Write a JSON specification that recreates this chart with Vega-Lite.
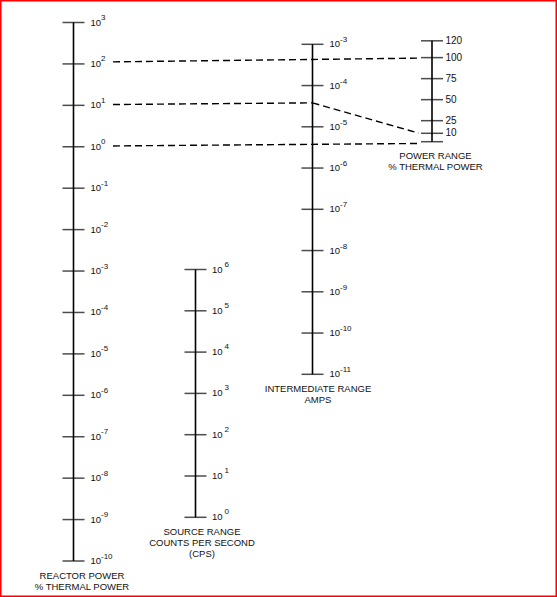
{
  "$schema": "https://vega.github.io/schema/vega-lite/v6.json",
  "width": 557,
  "height": 597,
  "autosize": {"type": "fit", "contains": "padding"},
  "padding": 0,
  "background": "white",
  "datasets": {
    "reactor": [
      {"exponent": 3}, {"exponent": 2}, {"exponent": 1}, {"exponent": 0},
      {"exponent": -1}, {"exponent": -2}, {"exponent": -3}, {"exponent": -4},
      {"exponent": -5}, {"exponent": -6}, {"exponent": -7}, {"exponent": -8},
      {"exponent": -9}, {"exponent": -10}
    ],
    "source": [
      {"exponent": 6}, {"exponent": 5}, {"exponent": 4}, {"exponent": 3},
      {"exponent": 2}, {"exponent": 1}, {"exponent": 0}
    ],
    "intermediate": [
      {"exponent": -3}, {"exponent": -4}, {"exponent": -5}, {"exponent": -6},
      {"exponent": -7}, {"exponent": -8}, {"exponent": -9}, {"exponent": -10},
      {"exponent": -11}
    ],
    "power": [
      {"percent": 120}, {"percent": 100}, {"percent": 75}, {"percent": 50},
      {"percent": 25}, {"percent": 10}, {"percent": 0}
    ],
    "dashes": [
      {"line": "100 %", "segment": "A", "at": "Reactor Power", "exponent": 2.05},
      {"line": "100 %", "segment": "A", "at": "Power Range", "exponent": 2.14},
      {"line": "1 %", "segment": "A", "at": "Reactor Power", "exponent": 0.02},
      {"line": "1 %", "segment": "A", "at": "Power Range", "exponent": 0.08},
      {"line": "10 %", "segment": "B", "at": "Reactor Power", "exponent": 1.02},
      {"line": "10 %", "segment": "B", "at": "Intermediate Range", "exponent": 1.06},
      {"line": "10 %", "segment": "C", "at": "Intermediate Range", "exponent": 1.06},
      {"line": "10 %", "segment": "C", "at": "Power Range", "exponent": 0.33}
    ]
  },
  "layer": [
    {
      "data": {"name": "dashes"},
      "transform": [{"filter": "datum.segment == 'A'"}],
      "mark": {"type": "line", "strokeDash": [7, 4], "strokeWidth": 1.4, "color": "#000"},
      "encoding": {
        "x": {"field": "at", "type": "nominal", "axis": null, "sort": null,
              "scale": {"domain": ["Reactor Power", "Power Range"], "range": [113, 421], "padding": 0}},
        "y": {"field": "exponent", "type": "quantitative", "axis": null,
              "scale": {"domain": [-10, 3], "range": [561, 22.5], "nice": false, "zero": false}},
        "detail": {"field": "line", "type": "nominal"}
      }
    },
    {
      "data": {"name": "dashes"},
      "transform": [{"filter": "datum.segment == 'B'"}],
      "mark": {"type": "line", "strokeDash": [7, 4], "strokeWidth": 1.4, "color": "#000"},
      "encoding": {
        "x": {"field": "at", "type": "nominal", "axis": null, "sort": null,
              "scale": {"domain": ["Reactor Power", "Intermediate Range"], "range": [113, 312.5], "padding": 0}},
        "y": {"field": "exponent", "type": "quantitative", "axis": null,
              "scale": {"domain": [-10, 3], "range": [561, 22.5], "nice": false, "zero": false}},
        "detail": {"field": "line", "type": "nominal"}
      }
    },
    {
      "data": {"name": "dashes"},
      "transform": [{"filter": "datum.segment == 'C'"}],
      "mark": {"type": "line", "strokeDash": [7, 4], "strokeWidth": 1.4, "color": "#000"},
      "encoding": {
        "x": {"field": "at", "type": "nominal", "axis": null, "sort": null,
              "scale": {"domain": ["Intermediate Range", "Power Range"], "range": [312.5, 418.5], "padding": 0}},
        "y": {"field": "exponent", "type": "quantitative", "axis": null,
              "scale": {"domain": [-10, 3], "range": [561, 22.5], "nice": false, "zero": false}},
        "detail": {"field": "line", "type": "nominal"}
      }
    },
    {
      "data": {"name": "reactor"},
      "encoding": {
        "x": {"datum": "Reactor Power", "type": "nominal", "axis": null, "scale": {"range": [73.5, 73.5]}},
        "y": {"field": "exponent", "type": "quantitative", "axis": null,
              "scale": {"domain": [-10, 3], "range": [561, 22.5], "nice": false, "zero": false}}
      },
      "layer": [
        {"mark": {"type": "line", "strokeWidth": 1.6, "color": "#000"}, "encoding": {"order": {"field": "exponent"}}},
        {"mark": {"type": "tick", "orient": "horizontal", "size": 22, "thickness": 1.5, "color": "#000"}},
        {"mark": {"type": "text", "align": "left", "baseline": "middle", "dx": 17, "fontSize": 9.5},
         "encoding": {"text": {"value": "10"}}},
        {"mark": {"type": "text", "align": "left", "baseline": "middle", "dx": 27.5, "dy": -4.5, "fontSize": 8},
         "encoding": {"text": {"field": "exponent", "type": "nominal"}}},
        {"transform": [{"filter": "datum.exponent == -10"}],
         "mark": {"type": "text", "align": "center", "baseline": "alphabetic", "dx": 8.5, "dy": 17.5, "fontSize": 9.5, "lineHeight": 11},
         "encoding": {"text": {"value": ["REACTOR POWER", "% THERMAL POWER"]}}}
      ]
    },
    {
      "data": {"name": "source"},
      "encoding": {
        "x": {"datum": "Source Range", "type": "nominal", "axis": null, "scale": {"range": [195.5, 195.5]}},
        "y": {"field": "exponent", "type": "quantitative", "axis": null,
              "scale": {"domain": [0, 6], "range": [517.3, 269.5], "nice": false, "zero": false}}
      },
      "layer": [
        {"mark": {"type": "line", "strokeWidth": 1.6, "color": "#000"}, "encoding": {"order": {"field": "exponent"}}},
        {"mark": {"type": "tick", "orient": "horizontal", "size": 22, "thickness": 1.5, "color": "#000"}},
        {"mark": {"type": "text", "align": "left", "baseline": "middle", "dx": 16.5, "fontSize": 9.5},
         "encoding": {"text": {"value": "10"}}},
        {"mark": {"type": "text", "align": "left", "baseline": "middle", "dx": 29, "dy": -5, "fontSize": 8},
         "encoding": {"text": {"field": "exponent", "type": "nominal"}}},
        {"transform": [{"filter": "datum.exponent == 0"}],
         "mark": {"type": "text", "align": "center", "baseline": "alphabetic", "dx": 6.5, "dy": 18, "fontSize": 9.5, "lineHeight": 11},
         "encoding": {"text": {"value": ["SOURCE RANGE", "COUNTS PER SECOND", "(CPS)"]}}}
      ]
    },
    {
      "data": {"name": "intermediate"},
      "encoding": {
        "x": {"datum": "Intermediate Range", "type": "nominal", "axis": null, "scale": {"range": [312.5, 312.5]}},
        "y": {"field": "exponent", "type": "quantitative", "axis": null,
              "scale": {"domain": [-11, -3], "range": [374.3, 44.3], "nice": false, "zero": false}}
      },
      "layer": [
        {"mark": {"type": "line", "strokeWidth": 1.6, "color": "#000"}, "encoding": {"order": {"field": "exponent"}}},
        {"mark": {"type": "tick", "orient": "horizontal", "size": 22, "thickness": 1.5, "color": "#000"}},
        {"mark": {"type": "text", "align": "left", "baseline": "middle", "dx": 17, "fontSize": 9.5},
         "encoding": {"text": {"value": "10"}}},
        {"mark": {"type": "text", "align": "left", "baseline": "middle", "dx": 27.5, "dy": -4, "fontSize": 8},
         "encoding": {"text": {"field": "exponent", "type": "nominal"}}},
        {"transform": [{"filter": "datum.exponent == -11"}],
         "mark": {"type": "text", "align": "center", "baseline": "alphabetic", "dx": 5.5, "dy": 18, "fontSize": 9.5, "lineHeight": 11},
         "encoding": {"text": {"value": ["INTERMEDIATE RANGE", "AMPS"]}}}
      ]
    },
    {
      "data": {"name": "power"},
      "encoding": {
        "x": {"datum": "Power Range", "type": "nominal", "axis": null, "scale": {"range": [432, 432]}},
        "y": {"field": "percent", "type": "quantitative", "axis": null,
              "scale": {"domain": [0, 120], "range": [141.7, 40.8], "nice": false, "zero": false}}
      },
      "layer": [
        {"mark": {"type": "line", "strokeWidth": 1.6, "color": "#000"}, "encoding": {"order": {"field": "percent"}}},
        {"mark": {"type": "tick", "orient": "horizontal", "size": 22, "thickness": 1.5, "color": "#000"}},
        {"transform": [{"filter": "datum.percent > 0"}],
         "mark": {"type": "text", "align": "left", "baseline": "middle", "dx": 13.5, "fontSize": 10},
         "encoding": {"text": {"field": "percent", "type": "nominal"}}},
        {"transform": [{"filter": "datum.percent == 0"}],
         "mark": {"type": "text", "align": "center", "baseline": "alphabetic", "dx": 3.5, "dy": 17.5, "fontSize": 9.5, "lineHeight": 11},
         "encoding": {"text": {"value": ["POWER RANGE", "% THERMAL POWER"]}}}
      ]
    }
  ],
  "resolve": {"scale": {"x": "independent", "y": "independent"}},
  "config": {
    "view": {"stroke": "red", "strokeWidth": 3},
    "text": {"font": "Liberation Sans", "color": "#111"}
  }
}
